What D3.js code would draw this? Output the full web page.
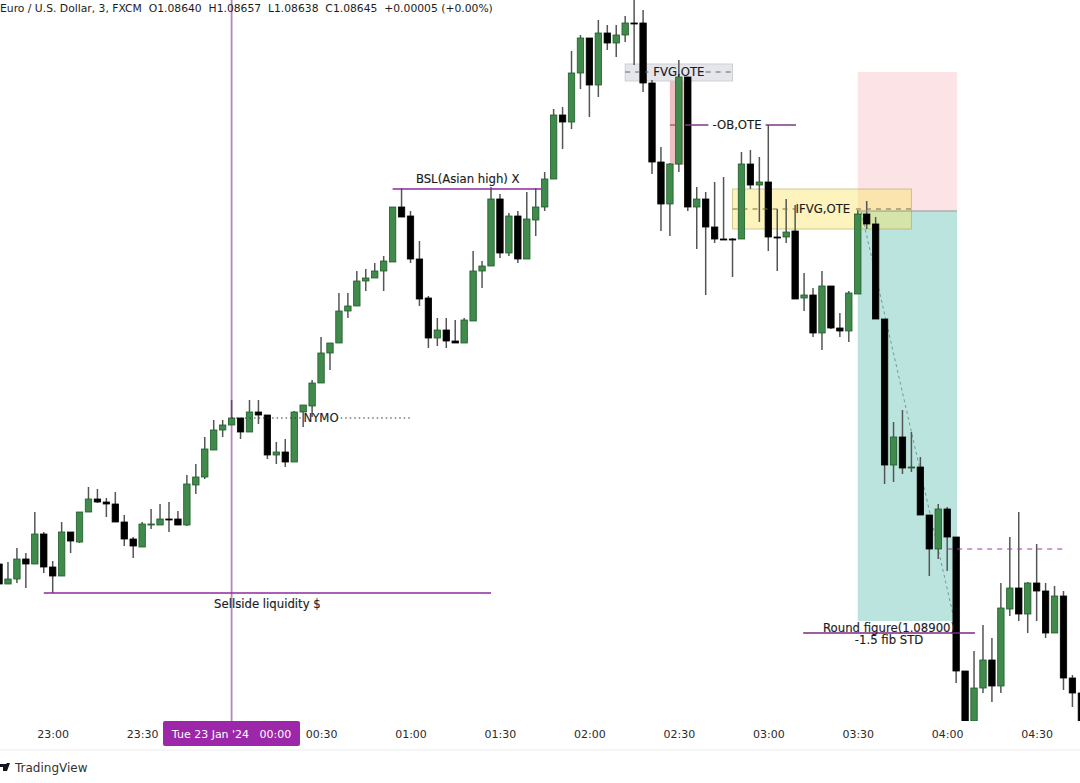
<!DOCTYPE html>
<html>
<head>
<meta charset="utf-8">
<script src="https://cdn.jsdelivr.net/npm/d3@7"></script>
<style>
  html, body { margin: 0; padding: 0; background: #fff; }
  svg { display: block; }
  text { font-family: "DejaVu Sans", sans-serif; font-size: 11px; fill: #1c1c1c; }
  .label { font-size: 11.7px; stroke: #1c1c1c; stroke-width: 0.15px; }
</style>
</head>
<body>
<div id="chart"></div>
<script>
// EUR/USD 3 min bars, bar 0 is 22:42 on the 22nd
const opens = [1.08969,1.08949,1.08954,1.08974,1.08969,1.08999,1.08966,1.08957,1.09001,1.08991,
  1.09021,1.09034,1.09031,1.09029,1.09011,1.08994,1.08986,1.09008,1.09008,1.09014,
  1.09014,1.09008,1.09048,1.09056,1.09083,1.09103,1.09108,1.09115,1.09101,1.09121,
  1.09118,1.09078,1.09081,1.09071,1.09121,1.09127,1.09150,1.09180,1.09190,1.09222,
  1.09227,1.09252,1.09255,1.09262,1.09271,1.09326,1.09317,1.09274,1.09235,1.09195,
  1.09203,1.09192,1.09190,1.09212,1.09262,1.09267,1.09334,1.09280,1.09317,1.09274,
  1.09313,1.09326,1.09354,1.09418,1.09411,1.09460,1.09495,1.09448,1.09500,1.09490,
  1.09498,1.09510,1.09510,1.09450,1.09371,1.09329,1.09369,1.09456,1.09326,1.09334,
  1.09306,1.09294,1.09294,1.09294,1.09369,1.09348,1.09351,1.09296,1.09296,1.09302,
  1.09235,1.09238,1.09200,1.09247,1.09205,1.09202,1.09239,1.09319,1.09309,1.09214,
  1.09068,1.09096,1.09065,1.09066,1.09018,1.08984,1.09024,1.08996,1.08862,1.08812,
  1.08845,1.08873,1.08847,1.08924,1.08945,1.08919,1.08950,1.08942,1.08900,1.08937,
  1.08855,1.08840];
const highs = [1.08975,1.08971,1.08985,1.08980,1.09021,1.09001,1.08972,1.09011,1.09001,1.09021,
  1.09046,1.09044,1.09035,1.09041,1.09018,1.08996,1.09011,1.09024,1.09029,1.09031,
  1.09022,1.09058,1.09069,1.09096,1.09113,1.09113,1.09133,1.09115,1.09133,1.09133,
  1.09118,1.09091,1.09094,1.09122,1.09128,1.09153,1.09196,1.09190,1.09240,1.09240,
  1.09262,1.09264,1.09270,1.09277,1.09326,1.09345,1.09322,1.09292,1.09237,1.09215,
  1.09215,1.09213,1.09215,1.09282,1.09272,1.09346,1.09339,1.09320,1.09322,1.09341,
  1.09345,1.09361,1.09424,1.09426,1.09482,1.09498,1.09495,1.09513,1.09508,1.09508,
  1.09517,1.09538,1.09523,1.09453,1.09386,1.09370,1.09473,1.09456,1.09346,1.09341,
  1.09351,1.09356,1.09295,1.09381,1.09383,1.09376,1.09408,1.09324,1.09334,1.09328,
  1.09260,1.09245,1.09262,1.09247,1.09220,1.09242,1.09323,1.09332,1.09316,1.09214,
  1.09111,1.09123,1.09101,1.09076,1.09018,1.09029,1.09026,1.08996,1.08862,1.08882,
  1.08908,1.08895,1.08950,1.08996,1.09021,1.08951,1.08989,1.08950,1.08947,1.08942,
  1.08858,1.08840];
const lows = [1.08943,1.08949,1.08950,1.08945,1.08969,1.08960,1.08940,1.08957,1.08980,1.08990,
  1.09021,1.09030,1.09016,1.09011,1.08987,1.08975,1.08986,1.09004,1.09008,1.09001,
  1.09008,1.09007,1.09039,1.09054,1.09083,1.09096,1.09108,1.09094,1.09101,1.09109,
  1.09074,1.09069,1.09066,1.09071,1.09106,1.09116,1.09150,1.09163,1.09190,1.09215,
  1.09227,1.09242,1.09255,1.09242,1.09271,1.09316,1.09270,1.09227,1.09185,1.09187,
  1.09185,1.09190,1.09190,1.09212,1.09245,1.09267,1.09275,1.09277,1.09270,1.09274,
  1.09297,1.09322,1.09354,1.09384,1.09404,1.09444,1.09416,1.09436,1.09483,1.09476,
  1.09491,1.09468,1.09441,1.09359,1.09302,1.09297,1.09361,1.09322,1.09284,1.09238,
  1.09290,1.09294,1.09256,1.09294,1.09344,1.09311,1.09282,1.09262,1.09290,1.09234,
  1.09222,1.09196,1.09183,1.09204,1.09196,1.09191,1.09239,1.09304,1.09214,1.09049,
  1.09051,1.09059,1.09061,1.09018,1.08957,1.08974,1.08962,1.08850,1.08812,1.08812,
  1.08840,1.08831,1.08840,1.08917,1.08912,1.08900,1.08912,1.08895,1.08900,1.08843,
  1.08826,1.08805];
const closes = [1.08949,1.08954,1.08974,1.08969,1.08999,1.08966,1.08957,1.09001,1.08992,1.09021,
  1.09034,1.09031,1.09029,1.09011,1.08994,1.08987,1.09009,1.09009,1.09014,1.09014,
  1.09008,1.09049,1.09056,1.09084,1.09103,1.09108,1.09115,1.09101,1.09121,1.09118,
  1.09078,1.09081,1.09071,1.09121,1.09128,1.09150,1.09180,1.09190,1.09222,1.09227,
  1.09252,1.09255,1.09262,1.09272,1.09326,1.09316,1.09274,1.09234,1.09195,1.09203,
  1.09192,1.09190,1.09213,1.09262,1.09267,1.09334,1.09280,1.09317,1.09274,1.09314,
  1.09326,1.09354,1.09418,1.09411,1.09460,1.09495,1.09448,1.09500,1.09490,1.09498,
  1.09510,1.09510,1.09450,1.09371,1.09329,1.09369,1.09456,1.09326,1.09334,1.09306,
  1.09294,1.09294,1.09294,1.09369,1.09348,1.09351,1.09296,1.09296,1.09301,1.09234,
  1.09238,1.09200,1.09247,1.09205,1.09202,1.09240,1.09319,1.09309,1.09214,1.09068,
  1.09096,1.09065,1.09066,1.09018,1.08984,1.09024,1.08996,1.08862,1.08812,1.08845,
  1.08873,1.08847,1.08925,1.08945,1.08919,1.08950,1.08942,1.08900,1.08937,1.08855,
  1.08840,1.08810];

const tickBars = [6, 16, 36, 46, 56, 66, 76, 86, 96, 106, 116];
const tickLabels = ["23:00", "23:30", "00:30", "01:00", "01:30", "02:00", "02:30", "03:00", "03:30", "04:00", "04:30"];

// drawings: [first bar, last bar, top price, bottom price]
const boxes = [
  { name: "target", from: 96, to: 107.1, top: 1.09461, bottom: 1.09322, fill: "#fce4e6", line: "none" },
  { name: "stop", from: 96, to: 107.1, top: 1.09322, bottom: 1.08900, fill: "#bce4de", line: "none" },
  { name: "fvg", from: 70, to: 82, top: 1.09469, bottom: 1.09452, fill: "#e5e5ec", line: "#cfcfd4" },
  { name: "ob", from: 75, to: 76.7, top: 1.09452, bottom: 1.09368, fill: "#eebfc2", line: "none" },
  { name: "ifvg", from: 82, to: 102, top: 1.09344, bottom: 1.09304, fill: "rgba(251,227,90,0.4)", line: "rgba(170,160,90,0.55)" }
];

const purple = "#8e2a9e";
const levels = [
  { from: 5, to: 55, price: 1.08940, color: purple, width: 1.5 },
  { from: 44, to: 60.7, price: 1.09344, color: purple, width: 1.5 },
  { from: 76.7, to: 79.3, price: 1.09408, color: "#7a3a80", width: 1.5 },
  { from: 85.7, to: 89.1, price: 1.09408, color: "#7a3a80", width: 1.5 },
  { from: 89.9, to: 109.1, price: 1.08900, color: "#7a2a80", width: 1.3 },
  { from: 96, to: 107.1, price: 1.09322, color: "#8a9a96", width: 1 },
  { from: 26, to: 34, price: 1.09115, color: "#333", width: 1, dash: "1.5 3" },
  { from: 38.2, to: 46, price: 1.09115, color: "#333", width: 1, dash: "1.5 3" },
  { from: 70, to: 72.6, price: 1.09461, color: "#666", width: 1, dash: "5 5" },
  { from: 79, to: 82, price: 1.09461, color: "#666", width: 1, dash: "5 5" },
  { from: 75, to: 75.6, price: 1.09408, color: "#7a3a50", width: 1 },
  { from: 82, to: 89, price: 1.09324, color: "#7d6f35", width: 1, dash: "5 5" },
  { from: 95.8, to: 102, price: 1.09324, color: "#7d6f35", width: 1, dash: "5 5" },
  { from: 106, to: 119, price: 1.08984, color: "#9a3aa8", width: 1, dash: "5 5" }
];

const labelTexts = ["Sellside liquidity $", "NYMO", "BSL(Asian high) X", "FVG,OTE", "-OB,OTE", "IFVG,OTE", "Round figure(1.08900)", "-1.5 fib STD"];
const labelBars = [30, 36, 52.4, 76, 82.5, 92.1, 99.5, 99.5];
const labelPrices = [1.08929, 1.09115, 1.09354, 1.09461, 1.09408, 1.09324, 1.08905, 1.08893];

const width = 1080, height = 783, plotBottom = 721;

const x = d3.scaleLinear().domain([0, 120]).range([-0.97, 1072.43]);
const y = d3.scaleLinear().domain([1.09533, 1.08900]).range([0, 633]);

const svg = d3.select("#chart").append("svg")
  .attr("width", width)
  .attr("height", height);

svg.append("rect").attr("width", width).attr("height", height).attr("fill", "#fff");

svg.append("clipPath").attr("id", "plot")
  .append("rect").attr("width", width).attr("height", plotBottom);

const plot = svg.append("g").attr("clip-path", "url(#plot)");

// shaded zones sit behind the candles
plot.selectAll(".zone")
  .data(boxes)
  .enter().append("rect")
  .attr("class", "zone")
  .attr("x", d => x(d.from))
  .attr("y", d => y(d.top))
  .attr("width", d => x(d.to) - x(d.from))
  .attr("height", d => y(d.bottom) - y(d.top))
  .attr("fill", d => d.fill)
  .attr("stroke", d => d.line);

// the round figure label has a white background over the teal
plot.append("rect")
  .attr("x", x(89.9))
  .attr("y", y(1.08912))
  .attr("width", x(107.2) - x(89.9))
  .attr("height", y(1.08900) - y(1.08912))
  .attr("fill", "#fff");

// crosshair
plot.append("line")
  .attr("x1", x(26)).attr("x2", x(26))
  .attr("y1", 0).attr("y2", plotBottom)
  .attr("stroke", "#b684c6")
  .attr("stroke-width", 1.8);

// projection from entry to target
plot.append("line")
  .attr("x1", x(96.4)).attr("y1", y(1.09321))
  .attr("x2", x(107.1)).attr("y2", y(1.08901))
  .attr("stroke", "#6f9c94")
  .attr("stroke-width", 1)
  .attr("stroke-dasharray", "3 3");

const bars = d3.range(opens.length);
const bodyWidth = 6.4;

plot.selectAll(".wick")
  .data(bars)
  .enter().append("line")
  .attr("class", "wick")
  .attr("x1", i => x(i)).attr("x2", i => x(i))
  .attr("y1", i => y(highs[i]))
  .attr("y2", i => y(lows[i]))
  .attr("stroke", "#555")
  .attr("stroke-width", 1.5);

plot.selectAll(".body")
  .data(bars)
  .enter().append("rect")
  .attr("class", "body")
  .attr("x", i => x(i) - bodyWidth / 2)
  .attr("y", i => y(Math.max(opens[i], closes[i])))
  .attr("width", bodyWidth)
  .attr("height", i => Math.max(1, Math.abs(y(opens[i]) - y(closes[i]))))
  .attr("fill", i => closes[i] > opens[i] ? "#408a4c" : "#000")
  .attr("stroke", i => closes[i] > opens[i] ? "#1f5c2a" : "#000")
  .attr("stroke-width", 0.8);

plot.selectAll(".level")
  .data(levels)
  .enter().append("line")
  .attr("class", "level")
  .attr("x1", d => x(d.from))
  .attr("x2", d => x(d.to))
  .attr("y1", d => y(d.price))
  .attr("y2", d => y(d.price))
  .attr("stroke", d => d.color)
  .attr("stroke-width", d => d.width)
  .attr("stroke-dasharray", d => d.dash || null);

plot.selectAll(".label")
  .data(labelTexts)
  .enter().append("text")
  .attr("class", "label")
  .attr("x", (d, i) => x(labelBars[i]))
  .attr("y", (d, i) => y(labelPrices[i]))
  .attr("text-anchor", "middle")
  .attr("dominant-baseline", "middle")
  .text(d => d);

// time axis
const xAxis = svg.append("g")
  .attr("transform", `translate(0,${plotBottom})`)
  .call(d3.axisBottom(x).tickValues(tickBars).tickFormat((d, i) => tickLabels[i]).tickSize(0).tickPadding(9));

xAxis.select(".domain").remove();
xAxis.selectAll("text")
  .style("font-family", '"DejaVu Sans", sans-serif')
  .style("font-size", "11px")
  .style("fill", "#2a2a2a");

svg.append("rect")
  .attr("x", 163).attr("y", plotBottom)
  .attr("width", 137).attr("height", 25)
  .attr("rx", 2)
  .attr("fill", "#9c27a8");

svg.append("text")
  .attr("x", x(26)).attr("y", 735)
  .attr("text-anchor", "middle")
  .attr("dominant-baseline", "middle")
  .style("fill", "#fff")
  .style("white-space", "pre")
  .style("font-size", "11px")
  .text("Tue 23 Jan '24   00:00");

svg.append("line")
  .attr("x1", 0).attr("x2", width)
  .attr("y1", 750).attr("y2", 750)
  .attr("stroke", "#ececec");

// legend at the top left
svg.append("text")
  .attr("x", 0).attr("y", 9)
  .attr("dominant-baseline", "middle")
  .style("white-space", "pre")
  .style("font-size", "10.77px")
  .text("Euro / U.S. Dollar, 3, FXCM  O1.08640  H1.08657  L1.08638  C1.08645  +0.00005 (+0.00%)");

// TradingView mark
svg.append("path")
  .attr("d", "M0 764h6v7H3v-4H0z M10 763l-3 8h-3l3-8z")
  .attr("fill", "#131722");
svg.append("circle").attr("cx", 7).attr("cy", 765).attr("r", 1.4).attr("fill", "#131722");

svg.append("text")
  .attr("x", 15).attr("y", 768)
  .attr("dominant-baseline", "middle")
  .style("font-size", "12px")
  .style("fill", "#333")
  .text("TradingView");
</script>
</body>
</html>
